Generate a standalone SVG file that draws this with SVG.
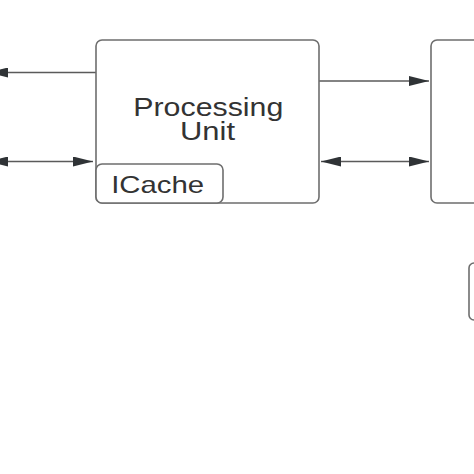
<svg xmlns="http://www.w3.org/2000/svg" width="474" height="474" viewBox="0 0 474 474">
<style>
.box{fill:#fff;stroke:#6e6e6e;stroke-width:1.6}
.ln{stroke:#5a5a5a;stroke-width:1.6;fill:none}
.t{font-family:"Liberation Sans",Arial,sans-serif;fill:#333;text-anchor:middle}
</style>
<defs>
<marker id="ah" viewBox="0 0 20 10" refX="20" refY="5" markerWidth="20" markerHeight="10" markerUnits="userSpaceOnUse" orient="auto-start-reverse">
<path d="M0,0 L20,5 L0,10 Z" fill="#2f3336"/>
</marker>
</defs>
<rect width="474" height="474" fill="#fff"/>
<g id="connectors">
<line class="ln" x1="96" y1="72.5" x2="-12" y2="72.5" marker-end="url(#ah)"/>
<line class="ln" x1="-12" y1="161.5" x2="93" y2="161.5" marker-start="url(#ah)" marker-end="url(#ah)"/>
<line class="ln" x1="319" y1="81" x2="429" y2="81" marker-end="url(#ah)"/>
<line class="ln" x1="321" y1="161.5" x2="429" y2="161.5" marker-start="url(#ah)" marker-end="url(#ah)"/>
</g>
<g id="processing-unit">
<rect class="box" x="96" y="40" width="223" height="163" rx="6"/>
<text class="t" x="208.3" y="115.7" font-size="25" textLength="150" lengthAdjust="spacingAndGlyphs">Processing</text>
<text class="t" x="207.5" y="140" font-size="25" textLength="55" lengthAdjust="spacingAndGlyphs">Unit</text>
</g>
<g id="icache">
<rect class="box" x="96" y="164" width="127" height="39" rx="6"/>
<text class="t" x="157.7" y="193.3" font-size="24" textLength="93" lengthAdjust="spacingAndGlyphs">ICache</text>
</g>
<g id="right-block">
<rect class="box" x="431" y="40" width="60" height="163" rx="6"/>
</g>
<g id="small-block">
<rect class="box" x="469" y="263" width="30" height="57" rx="5"/>
</g>
</svg>
